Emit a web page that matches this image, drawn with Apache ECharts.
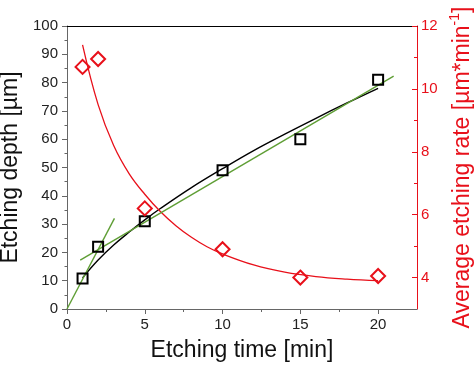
<!DOCTYPE html>
<html>
<head>
<meta charset="utf-8">
<script src="https://cdn.jsdelivr.net/npm/echarts@6/dist/echarts.min.js"></script>
<style>html,body{margin:0;padding:0;background:#fff;}#c{width:474px;height:369px;}</style>
</head>
<body>
<div id="c"></div>
<script>
// measured points
const etchTime = [1, 2, 5, 10, 15, 20];
const etchDepth = [10.8, 22, 31, 49, 60, 81];
const etchRate = [10.7, 10.95, 6.2, 4.9, 4.0, 4.05];
// fitted curves
const depthFitTime = [1, 2, 3, 4, 5, 6, 8, 10, 12, 14, 16, 18, 20];
const depthFit = [11, 17.3, 22.6, 27.2, 31.5, 35.5, 42.9, 49.6, 56, 61.8, 67.4, 72.8, 78];
const rateFitTime = [1, 2, 3, 4, 5, 6, 7, 8, 9, 10, 12, 14, 16, 18, 20];
const rateFit = [11.4, 9.5, 8.2, 7.3, 6.65, 6.1, 5.65, 5.28, 4.98, 4.75, 4.4, 4.17, 4.03, 3.95, 3.9];
const steepFitTime = [0, 3.05];
const steepFit = [0, 32];
const linFitTime = [0.85, 21];
const linFit = [17.3, 82.3];
// ticks
const xMajorTicks = [0, 5, 10, 15, 20];
const xMinorTicks = [2.5, 7.5, 12.5, 17.5];
const rateMajorTicks = [4, 6, 8, 10, 12];
const rateMinorTicks = [5, 7, 9, 11];

const pairs = (xs, ys) => xs.map((x, i) => [x, ys[i]]);
const FONT = 'Liberation Sans, Arial, sans-serif';
const RED = '#e8101a';
const GREEN = '#5f9e35';
const GREY = '#666';

const chart = echarts.init(document.getElementById('c'), null, {renderer: 'canvas'});
chart.setOption({
  animation: false,
  backgroundColor: '#fff',
  textStyle: {fontFamily: FONT},
  grid: {left: 67, right: 57, top: 26, bottom: 60, containLabel: false, outerBoundsMode: 'none'},
  xAxis: [
    {
      type: 'value', position: 'bottom', min: 0, max: 22.5, interval: 2.5,
      name: 'Etching time [min]', nameLocation: 'middle', nameGap: 30,
      nameTextStyle: {fontSize: 23, color: '#111', fontFamily: FONT},
      axisLine: {show: true, onZero: false, lineStyle: {color: GREY, width: 1}},
      axisTick: {show: true, inside: false, length: 5, customValues: xMajorTicks, lineStyle: {color: GREY}},
      axisLabel: {show: true, customValues: xMajorTicks, margin: 8, fontSize: 15, color: '#222', fontFamily: FONT},
      splitLine: {show: false}
    },
    {
      type: 'value', position: 'top', min: 0, max: 22.5,
      axisLine: {show: true, onZero: false, lineStyle: {color: '#000', width: 1.2}},
      axisTick: {show: false}, axisLabel: {show: false}, splitLine: {show: false}
    },
    {
      type: 'value', position: 'bottom', min: 0, max: 22.5, interval: 2.5,
      axisLine: {show: false, onZero: false},
      axisTick: {show: true, inside: false, length: 3, customValues: xMinorTicks, lineStyle: {color: GREY}},
      axisLabel: {show: false}, splitLine: {show: false}
    }
  ],
  yAxis: [
    {
      type: 'value', position: 'left', min: 0, max: 100, interval: 10,
      name: 'Etching depth [µm]', nameLocation: 'middle', nameGap: 44, nameRotate: 90,
      nameTextStyle: {fontSize: 23, color: '#111', fontFamily: FONT},
      axisLine: {show: true, onZero: false, lineStyle: {color: GREY, width: 1}},
      axisTick: {show: true, inside: false, length: 5, lineStyle: {color: GREY}},
      minorTick: {show: true, splitNumber: 2, length: 2.5, lineStyle: {color: GREY}},
      axisLabel: {margin: 9, fontSize: 15, color: '#222', fontFamily: FONT},
      splitLine: {show: false}, minorSplitLine: {show: false}
    },
    {
      type: 'value', position: 'right', min: 3, max: 12, interval: 1,
      name: '{a|Average etching rate [µm*min}{s|-1}{a|]}', nameLocation: 'middle', nameGap: 31, nameRotate: 90,
      nameTextStyle: {
        color: RED, fontFamily: FONT,
        rich: {
          a: {fontSize: 23, color: RED, fontFamily: FONT, lineHeight: 26, verticalAlign: 'bottom'},
          s: {fontSize: 14, color: RED, fontFamily: FONT, lineHeight: 26, verticalAlign: 'top'}
        }
      },
      axisLine: {show: true, onZero: false, lineStyle: {color: RED, width: 1}},
      axisTick: {show: true, inside: true, length: 5, customValues: rateMajorTicks, lineStyle: {color: RED}},
      axisLabel: {customValues: rateMajorTicks, margin: 4, fontSize: 15, color: RED, fontFamily: FONT},
      splitLine: {show: false}
    },
    {
      type: 'value', position: 'right', min: 3, max: 12, interval: 1,
      axisLine: {show: false, onZero: false},
      axisTick: {show: true, inside: true, length: 3, customValues: rateMinorTicks, lineStyle: {color: RED}},
      axisLabel: {show: false}, splitLine: {show: false}
    }
  ],
  series: [
    {
      type: 'line', xAxisIndex: 0, yAxisIndex: 0, data: pairs(depthFitTime, depthFit),
      smooth: 0.4, showSymbol: false, silent: true,
      lineStyle: {color: '#000', width: 1.4}, z: 2
    },
    {
      type: 'line', xAxisIndex: 0, yAxisIndex: 0, data: pairs(steepFitTime, steepFit),
      showSymbol: false, silent: true, lineStyle: {color: GREEN, width: 1.4}, z: 3
    },
    {
      type: 'line', xAxisIndex: 0, yAxisIndex: 0, data: pairs(linFitTime, linFit),
      showSymbol: false, silent: true, lineStyle: {color: GREEN, width: 1.4}, z: 3
    },
    {
      type: 'line', xAxisIndex: 0, yAxisIndex: 1, data: pairs(rateFitTime, rateFit),
      smooth: 0.4, showSymbol: false, silent: true,
      lineStyle: {color: RED, width: 1.3}, z: 2
    },
    {
      type: 'scatter', xAxisIndex: 0, yAxisIndex: 0, data: pairs(etchTime, etchDepth),
      symbol: 'rect', symbolSize: 10,
      itemStyle: {color: 'rgba(0,0,0,0)', borderColor: '#000', borderWidth: 2, opacity: 1}, z: 5
    },
    {
      type: 'scatter', xAxisIndex: 0, yAxisIndex: 1, data: pairs(etchTime, etchRate),
      symbol: 'diamond', symbolSize: 14,
      itemStyle: {color: 'rgba(0,0,0,0)', borderColor: RED, borderWidth: 2, opacity: 1}, z: 5
    }
  ]
});
</script>
</body>
</html>
